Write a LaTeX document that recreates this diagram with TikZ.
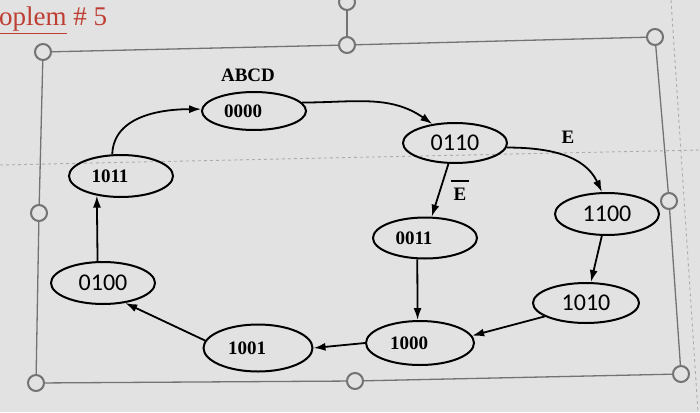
\documentclass[tikz,border=0pt]{standalone}
\usepackage{fontspec}
\setmainfont{Liberation Serif}
\newfontfamily\calfont{Carlito}
\usetikzlibrary{shapes.geometric,arrows.meta}
\definecolor{bg}{RGB}{226,226,226}
\definecolor{framec}{RGB}{115,115,115}
\definecolor{titlered}{RGB}{190,62,50}
\newcommand{\leftpadtext}[1]{#1\hspace*{22pt}}
\begin{document}
\begin{tikzpicture}[x=1pt,y=1pt,
 st/.style={ellipse,draw,line width=2pt,inner sep=0pt,minimum width=104pt,minimum height=40pt},
 tb/.style={font=\bfseries\fontsize{19}{20}\selectfont},
 tc/.style={font=\calfont\fontsize{24}{25}\selectfont},
 arr/.style={line width=1.8pt,-{Latex[length=12pt,width=8pt]}},
 handle/.style={circle,draw=framec,line width=2pt,fill=bg,minimum size=16pt,inner sep=0pt},
 fl/.style={draw=framec,line width=1.3pt},
 guide/.style={draw=gray!65,line width=0.9pt,dash pattern=on 3pt off 3pt}]
\fill[bg] (0,0) rectangle (700,-412);
\useasboundingbox (0,0) rectangle (700,-412);
% guides
\coordinate (gl) at (0,-165); \coordinate (gr) at (700,-150);
\draw[guide] (gl) -- (gr);
\coordinate (vt) at (671,0); \coordinate (vb) at (698,-412);
\draw[guide] (vt) -- (vb);
% selection frame
\node[handle] (htl) at (43,-52) {};
\node[handle] (htm) at (347,-45) {};
\node[handle] (htr) at (655,-37) {};
\node[handle] (hrm) at (669,-201) {};
\node[handle] (hbr) at (681,-374) {};
\node[handle] (hbm) at (355,-381) {};
\node[handle] (hbl) at (36,-383) {};
\node[handle] (hlm) at (39,-213) {};
\node[handle] (hrot) at (347,-2) {};
\draw[fl] (htl) -- (htm) -- (htr) -- (hrm) -- (hbr) -- (hbm) -- (hbl) -- (hlm) -- (htl);
\draw[fl] (hrot) -- (htm);
% title
\node[anchor=base west,font=\fontsize{27}{28}\selectfont,text=titlered,inner sep=0pt] (title) at (-1,-26) {\underline{oplem} \# 5};
% states
\node[st,tb,minimum height=38pt] (s0000) at (254,-111) {\leftpadtext{0000}};
\node[st,tc,minimum height=40pt] (s0110) at (455,-143) {0110};
\node[st,tb,minimum height=42pt] (s1011) at (121,-176) {\leftpadtext{1011}};
\node[st,tc,minimum height=42pt] (s1100) at (607,-214) {1100};
\node[st,tb,minimum height=41pt] (s0011) at (425,-238) {\leftpadtext{0011}};
\node[st,tc,minimum height=42pt] (s0100) at (103,-283) {0100};
\node[st,tb,minimum height=47pt,minimum width=109pt] (s1001) at (258,-348) {\leftpadtext{1001}};
\node[st,tb,minimum height=44pt,minimum width=108pt] (s1000) at (420,-343) {\leftpadtext{1000}};
\node[st,tc,minimum height=40pt,minimum width=106pt] (s1010) at (586,-303) {1010};
% labels
\node[tb] (labABCD) at (248,-75) {ABCD};
\node[tb] (labE) at (568,-137) {E};
\node[tb] (labEbar) at (460,-194) {E};
\draw[line width=1.6pt] ([xshift=-9pt,yshift=13pt]labEbar.center) -- ([xshift=9pt,yshift=13pt]labEbar.center);
% transitions
\draw[arr] (s0000.10) to[out=0,in=145] (s0110.140);
\draw[arr] (s0110.355) to[out=0,in=115] (s1100.103);
\draw[arr] (s0110) -- (s0011);
\draw[arr] (s1100) -- (s1010);
\draw[arr] (s1010.198) -- (s1000.8);
\draw[arr] (s0011.250) -- (s1000.96);
\draw[arr] (s1000.west) -- (s1001.east);
\draw[arr] (s1001.172) -- (s0100.318);
\draw[arr] (s0100.104) -- (s1011.219);
\draw[arr] (s1011.112) to[out=88,in=180] (s0000.178);
\end{tikzpicture}
\end{document}
